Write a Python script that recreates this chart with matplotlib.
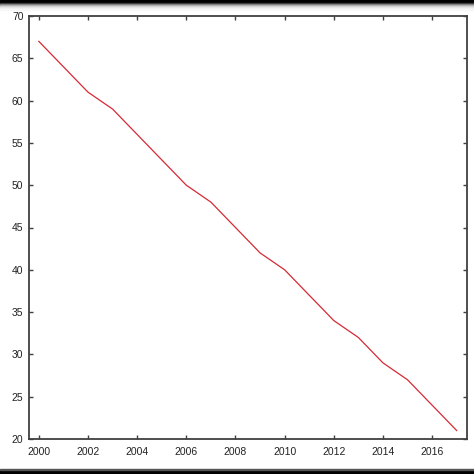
import matplotlib
matplotlib.use("Agg")
import matplotlib.pyplot as plt
from matplotlib.patches import Rectangle

# values
years = [2000, 2001, 2002, 2003, 2004, 2005, 2006, 2007, 2008,
         2009, 2010, 2011, 2012, 2013, 2014, 2015, 2016, 2017]
values = [67, 64, 61, 59, 56, 53, 50, 48, 45,
          42, 40, 37, 34, 32, 29, 27, 24, 21]
xticks = [2000, 2002, 2004, 2006, 2008, 2010, 2012, 2014, 2016]
yticks = [20, 25, 30, 35, 40, 45, 50, 55, 60, 65, 70]

plt.rcParams['font.family'] = ['Liberation Sans Narrow', 'Liberation Sans', 'DejaVu Sans']

fig = plt.figure(figsize=(4.74, 4.74), dpi=100)
ax = fig.add_axes([29 / 474, 35 / 474, 438 / 474, 423 / 474])

ax.plot(years, values, color='#d42a35', linewidth=0.9)

ax.set_xlim(1999.6, 2017.42)
ax.set_ylim(20, 70)
ax.set_xticks(xticks)
ax.set_yticks(yticks)

ax.tick_params(direction='in', length=3, width=1, color='#404040',
               top=True, right=True, labelsize=7.5, labelcolor='#222222')
ax.tick_params(axis='x', pad=6)
ax.tick_params(axis='y', pad=4)
for s in ax.spines.values():
    s.set_color('#404040')
    s.set_linewidth(1.3)

# dark band fading out at the top edge, black band at the bottom
shades = ['black', 'black', 'black', '#333333', '#777777', '#aaaaaa',
          '#cccccc', '#e2e2e2', '#efefef', '#f7f7f7']
for i, c in enumerate(shades):
    fig.patches.append(Rectangle((0, 1 - (i + 1) / 474), 1, 1 / 474,
                                 transform=fig.transFigure, color=c, zorder=0))
fig.patches.append(Rectangle((0, 0), 1, 4 / 474, transform=fig.transFigure,
                             color='black', zorder=0))
fig.patches.append(Rectangle((0, 4 / 474), 1, 1 / 474, transform=fig.transFigure,
                             color='#555555', zorder=0))

fig.savefig("out.png", dpi=100)
